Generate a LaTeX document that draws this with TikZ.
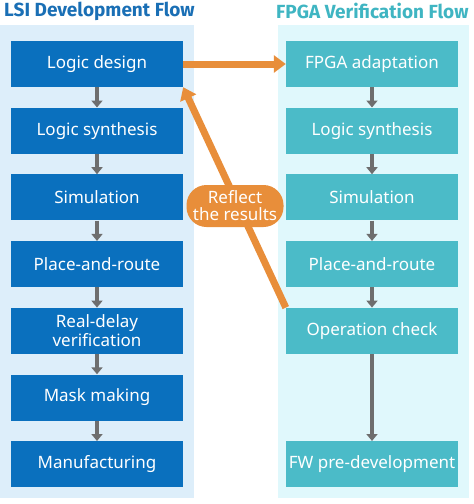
\documentclass[tikz,border=0pt]{standalone}
\usepackage{fontspec}
\setmainfont{Noto Sans}
\newfontfamily\titlefont{Fira Sans}
\usetikzlibrary{positioning,arrows.meta}

\definecolor{lsiblue}{RGB}{10,112,190}
\definecolor{lsititle}{RGB}{26,111,181}
\definecolor{lsibg}{RGB}{221,238,250}
\definecolor{fpgateal}{RGB}{75,187,200}
\definecolor{fpgatitle}{RGB}{63,181,194}
\definecolor{fpgabg}{RGB}{224,248,252}
\definecolor{flowgray}{RGB}{110,110,110}
\definecolor{reflorange}{RGB}{232,142,58}

\tikzset{
    flowbox/.style = {
        minimum width = 172pt,
        minimum height = 46pt,
        inner sep = 0pt,
        align = center,
        text = white,
        font = \fontsize{17}{18.5}\selectfont
    },
    lsibox/.style = {flowbox, fill = lsiblue},
    fpgabox/.style = {flowbox, fill = fpgateal},
    flowtitle/.style = {
        anchor = west,
        inner sep = 0pt,
        font = \titlefont\bfseries\fontsize{19}{20}\selectfont
    },
    flowarrow/.style = {
        draw = flowgray,
        line width = 4pt,
        -{Triangle[length=7pt, width=11pt]}
    },
    reflarrow/.style = {
        draw = reflorange,
        line width = 7pt,
        -{Triangle[length=12pt, width=17pt]}
    }
}

\begin{document}
\begin{tikzpicture}[
        x = 1pt,
        y = -1pt,
        node distance = 20.3pt
    ]
        \useasboundingbox (0,0) rectangle (474,504);
        % panels
        \fill[lsibg] (0,25) rectangle (194,498);
        \fill[fpgabg] (278,25) rectangle (469,498);
        \node[flowtitle, text=lsititle] (lsititle) at (4,11) {LSI Development Flow};
        \node[flowtitle, text=fpgatitle] (fpgatitle) at (276,11) {FPGA Verification Flow};

        % LSI flow
        \node[lsibox] (lsilogic) at (97,64) {Logic design};
        \node[lsibox, below=of lsilogic] (lsisynth) {Logic synthesis};
        \node[lsibox, below=of lsisynth] (lsisim) {Simulation};
        \node[lsibox, below=of lsisim] (lsipnr) {Place-and-route};
        \node[lsibox, below=of lsipnr] (lsidelay) {Real-delay\\verification};
        \node[lsibox, below=of lsidelay] (lsimask) {Mask making};
        \node[lsibox, below=of lsimask] (lsimanuf) {Manufacturing};
        \draw[flowarrow] (lsilogic) -- (lsisynth);
        \draw[flowarrow] (lsisynth) -- (lsisim);
        \draw[flowarrow] (lsisim) -- (lsipnr);
        \draw[flowarrow] (lsipnr) -- (lsidelay);
        \draw[flowarrow] (lsidelay) -- (lsimask);
        \draw[flowarrow] (lsimask) -- (lsimanuf);

        % FPGA flow
        \node[fpgabox] (fpgaadapt) at (372,64) {FPGA adaptation};
        \node[fpgabox, below=of fpgaadapt] (fpgasynth) {Logic synthesis};
        \node[fpgabox, below=of fpgasynth] (fpgasim) {Simulation};
        \node[fpgabox, below=of fpgasim] (fpgapnr) {Place-and-route};
        \node[fpgabox, below=of fpgapnr] (fpgacheck) {Operation check};
        \node[fpgabox] (fpgafw) at (fpgacheck |- lsimanuf) {FW pre-development};
        \draw[flowarrow] (fpgaadapt) -- (fpgasynth);
        \draw[flowarrow] (fpgasynth) -- (fpgasim);
        \draw[flowarrow] (fpgasim) -- (fpgapnr);
        \draw[flowarrow] (fpgapnr) -- (fpgacheck);
        \draw[flowarrow] (fpgacheck) -- (fpgafw);

        % hand-over and feedback
        \draw[reflarrow] (lsilogic.east) -- (fpgaadapt.west);
        \draw[reflarrow] (fpgacheck.north west) -- (lsilogic.south east);
        \node[fill=reflorange, text=white, rounded corners=20pt, minimum width=97pt,
              minimum height=42pt, inner sep=0pt, align=center,
              font=\fontsize{17}{17}\selectfont] (reflect) at (235,206) {Reflect\\the results};
    \end{tikzpicture}
\end{document}
